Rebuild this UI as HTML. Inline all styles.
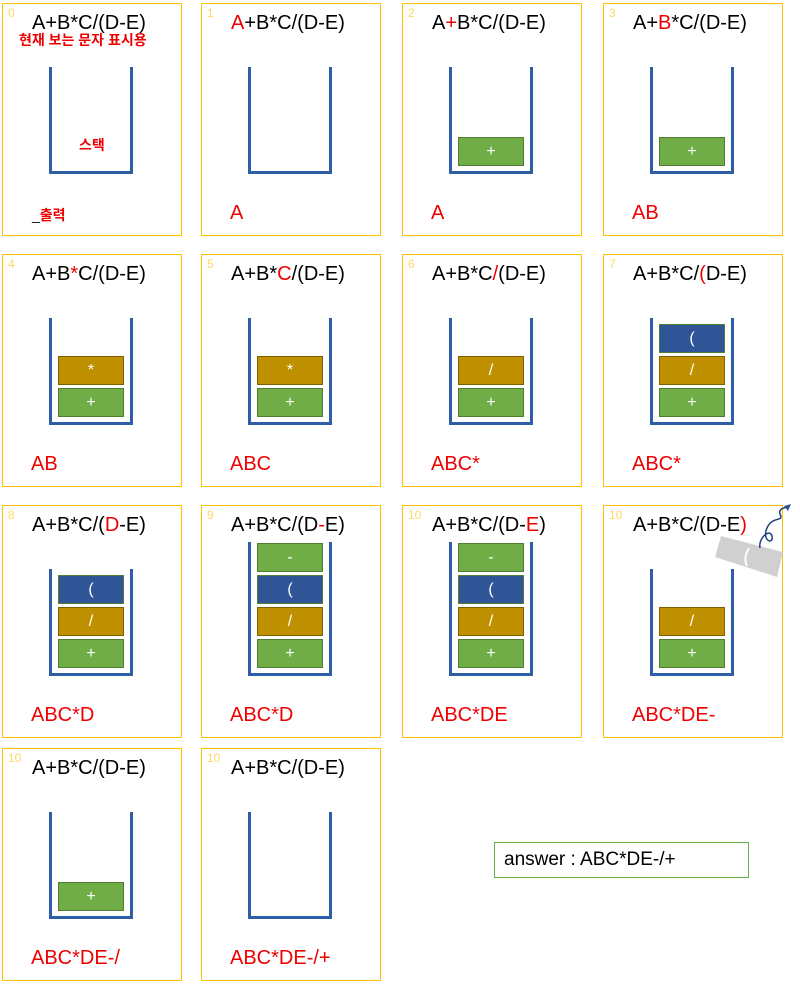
<!DOCTYPE html>
<html><head><meta charset="utf-8"><style>
body{margin:0;width:800px;height:984px;background:#fff;position:relative;overflow:hidden;font-family:"Liberation Sans","Noto Sans CJK KR",sans-serif}
.p{position:absolute;width:178px;height:231px;border:1.5px solid #ffc000;box-sizing:content-box}
.n{position:absolute;left:5px;top:2px;font-size:12px;color:#ffd966}
.e{position:absolute;left:29px;top:8px;font-size:20px;color:#000;white-space:nowrap}
.r{color:#e00}
.o{position:absolute;left:28px;top:198px;font-size:20px;color:#e00;white-space:nowrap}
.s{position:absolute;left:46px;top:63px;width:78px;height:104px;border:3px solid #2e5ea8;border-top:none}
.s.t{top:36px;height:131px}
.b{position:absolute;left:55px;width:64px;height:27px;border:1px solid #507e32;color:#fff;font-size:16px;text-align:center;line-height:27px}
.g{background:#70ad47}.y{background:#bf9000;border-color:#7f6000}.u{background:#2f5597;border-color:#507e32}
.b1{top:133px}.b2{top:101px}.b3{top:69px}.b4{top:37px}
</style></head><body>

<div class="p" style="left:2px;top:3px"><div class="n">0</div><div class="e">A+B*C/(D-E)</div>
<div style="position:absolute;left:16px;top:26px;font-size:14px;font-weight:bold;color:#e00;white-space:nowrap">현재 보는 문자 표시용</div>
<div class="s"></div><div style="position:absolute;left:76px;top:131px;font-size:14px;font-weight:bold;color:#e00">스택</div>
<div style="position:absolute;left:29px;top:201px;font-size:14px;white-space:nowrap">_<span style="color:#e00;font-weight:bold">출력</span></div></div>

<div class="p" style="left:201px;top:3px"><div class="n">1</div><div class="e"><span class="r">A</span>+B*C/(D-E)</div><div class="s"></div><div class="o">A</div></div>

<div class="p" style="left:402px;top:3px"><div class="n">2</div><div class="e">A<span class="r">+</span>B*C/(D-E)</div><div class="s"></div><div class="b g b1">+</div><div class="o">A</div></div>

<div class="p" style="left:603px;top:3px"><div class="n">3</div><div class="e">A+<span class="r">B</span>*C/(D-E)</div><div class="s"></div><div class="b g b1">+</div><div class="o">AB</div></div>

<div class="p" style="left:2px;top:254px"><div class="n">4</div><div class="e">A+B<span class="r">*</span>C/(D-E)</div><div class="s"></div><div class="b g b1">+</div><div class="b y b2">*</div><div class="o">AB</div></div>

<div class="p" style="left:201px;top:254px"><div class="n">5</div><div class="e">A+B*<span class="r">C</span>/(D-E)</div><div class="s"></div><div class="b g b1">+</div><div class="b y b2">*</div><div class="o">ABC</div></div>

<div class="p" style="left:402px;top:254px"><div class="n">6</div><div class="e">A+B*C<span class="r">/</span>(D-E)</div><div class="s"></div><div class="b g b1">+</div><div class="b y b2">/</div><div class="o">ABC*</div></div>

<div class="p" style="left:603px;top:254px"><div class="n">7</div><div class="e">A+B*C/<span class="r">(</span>D-E)</div><div class="s"></div><div class="b g b1">+</div><div class="b y b2">/</div><div class="b u b3">(</div><div class="o">ABC*</div></div>

<div class="p" style="left:2px;top:505px"><div class="n">8</div><div class="e">A+B*C/(<span class="r">D</span>-E)</div><div class="s"></div><div class="b g b1">+</div><div class="b y b2">/</div><div class="b u b3">(</div><div class="o">ABC*D</div></div>

<div class="p" style="left:201px;top:505px"><div class="n">9</div><div class="e">A+B*C/(D<span class="r">-</span>E)</div><div class="s t"></div><div class="b g b1">+</div><div class="b y b2">/</div><div class="b u b3">(</div><div class="b g b4">-</div><div class="o">ABC*D</div></div>

<div class="p" style="left:402px;top:505px"><div class="n">10</div><div class="e">A+B*C/(D-<span class="r">E</span>)</div><div class="s t"></div><div class="b g b1">+</div><div class="b y b2">/</div><div class="b u b3">(</div><div class="b g b4">-</div><div class="o">ABC*DE</div></div>

<div class="p" style="left:603px;top:505px"><div class="n">10</div><div class="e">A+B*C/(D-E<span class="r">)</span></div><div class="s"></div><div class="b g b1">+</div><div class="b y b2">/</div><div class="o">ABC*DE-</div></div>

<div class="p" style="left:2px;top:748px"><div class="n">10</div><div class="e">A+B*C/(D-E)</div><div class="s"></div><div class="b g b1">+</div><div class="o">ABC*DE-/</div></div>

<div class="p" style="left:201px;top:748px"><div class="n">10</div><div class="e">A+B*C/(D-E)</div><div class="s"></div><div class="o">ABC*DE-/+</div></div>

<svg style="position:absolute;left:0;top:0" width="800" height="984">
<polygon points="721,536 783,552 777,577 715,557" fill="#d0d0d0"/>
<path d="M749,548 q-6,10 -2,18" stroke="#fff" stroke-width="2" fill="none"/>
<path d="M760,548 C758,538 770,528 772,536 C774,546 760,540 768,526 C774,516 784,522 780,514 C778,508 786,508 789,506" stroke="#1f3f7a" stroke-width="1.5" fill="none"/>
<polygon points="791,504 784,506 788,511" fill="#2f5597"/>
</svg>

<div style="position:absolute;left:494px;top:842px;width:244px;height:34px;border:1.5px solid #70ad47;font-size:19px;line-height:34px;padding-left:9px;box-sizing:content-box;white-space:nowrap">answer : ABC*DE-/+</div>
</body></html>
